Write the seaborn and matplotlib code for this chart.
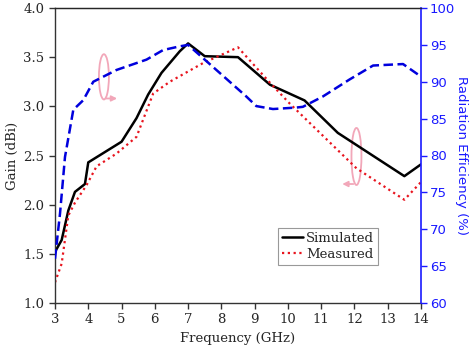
import matplotlib
matplotlib.use("Agg")
import matplotlib.pyplot as plt
import seaborn as sns
import pandas as pd
from matplotlib.patches import Ellipse

sim_freq = [3.0, 3.2, 3.4, 3.6, 3.9, 4.0, 5.0, 5.45, 5.8, 6.2, 6.75, 7.0, 7.5, 8.5, 9.46, 10.5, 11.5, 13.5, 14.0]
sim_gain = [1.52, 1.64, 1.94, 2.13, 2.21, 2.43, 2.64, 2.88, 3.12, 3.34, 3.56, 3.64, 3.51, 3.50, 3.22, 3.06, 2.73, 2.29, 2.41]

meas_freq = [3.0, 3.2, 3.4, 3.6, 3.95, 4.25, 4.85, 5.45, 5.95, 6.45, 7.45, 8.5, 9.46, 10.05, 12.06, 13.5, 14.0]
meas_gain = [1.21, 1.40, 1.89, 2.02, 2.20, 2.39, 2.52, 2.69, 3.13, 3.25, 3.44, 3.60, 3.24, 3.03, 2.37, 2.05, 2.23]

eff_freq = [3.0, 3.15, 3.3, 3.55, 3.85, 4.15, 4.85, 5.75, 6.25, 6.75, 7.0, 7.95, 8.75, 9.05, 9.55, 10.25, 10.45, 11.05, 11.85, 12.56, 13.46, 14.0]
eff_val = [66.0, 72.1, 79.8, 86.2, 87.5, 90.0, 91.6, 93.0, 94.3, 94.8, 95.0, 91.2, 88.0, 86.7, 86.3, 86.5, 86.6, 88.0, 90.3, 92.2, 92.4, 90.7]

x_ticks = list(range(3, 15))
gain_ticks = [1.0, 1.5, 2.0, 2.5, 3.0, 3.5, 4.0]
eff_ticks = [60, 65, 70, 75, 80, 85, 90, 95, 100]

sns.set_style("ticks")
plt.rcParams['font.family'] = ['DejaVu Serif']

blue = "#1a1aff"
fig = plt.figure(figsize=(4.74, 3.54), dpi=100)
ax = fig.add_axes([55/474, 1-303/354, 366/474, 295/354])
ax2 = ax.twinx()

df_sim = pd.DataFrame({"f": sim_freq, "g": sim_gain})
df_meas = pd.DataFrame({"f": meas_freq, "g": meas_gain})
df_eff = pd.DataFrame({"f": eff_freq, "e": eff_val})

sns.lineplot(data=df_sim, x="f", y="g", ax=ax, color="black", lw=1.8, label="Simulated", sort=False)
sns.lineplot(data=df_meas, x="f", y="g", ax=ax, color="#e8141e", lw=1.6, ls=(0, (1, 1.6)), label="Measured", sort=False)
sns.lineplot(data=df_eff, x="f", y="e", ax=ax2, color="#0000dd", lw=1.8, ls=(0, (3.8, 1.8)), sort=False)

ax.set_xlim(3, 14)
ax.set_ylim(1.0, 4.0)
ax2.set_ylim(60, 100)
ax.set_xticks(x_ticks)
ax.set_yticks(gain_ticks)
ax.set_yticklabels([f"{v:.1f}" for v in gain_ticks])
ax2.set_yticks(eff_ticks)

ax.set_xlabel("Frequency (GHz)", fontsize=9.5, family="DejaVu Serif")
ax.set_ylabel("Gain (dBi)", fontsize=9.5, family="DejaVu Serif", labelpad=3)
ax2.set_ylabel("Radiation Efficiency (%)", fontsize=9.5, color=blue, rotation=270, labelpad=9, family="DejaVu Sans")

ax.tick_params(axis="both", labelsize=9.5, direction="out", length=4, width=1, color="#333333")
ax2.tick_params(axis="y", labelsize=9.5, colors=blue, direction="out", length=4, width=1, pad=2.5)
for lab in ax2.get_yticklabels():
    lab.set_family("DejaVu Sans")

for s in ["left", "bottom", "top"]:
    ax.spines[s].set_color("#333333")
    ax.spines[s].set_linewidth(1.0)
ax2.spines["right"].set_color(blue)
ax2.spines["right"].set_linewidth(1.2)
ax2.spines["top"].set_visible(True)
ax2.spines["left"].set_visible(False)
ax2.spines["bottom"].set_visible(False)
ax.spines["right"].set_visible(False)

# annotation ellipses
pink = "#f2a7b9"
e1 = Ellipse((4.47, 3.30), 0.3, 0.46, fill=False, ec=pink, lw=1.3)
ax.add_patch(e1)
ax.annotate("", xy=(4.95, 3.08), xytext=(4.45, 3.08),
            arrowprops=dict(arrowstyle="-|>", color=pink, lw=1.3, mutation_scale=8))
e2 = Ellipse((12.06, 2.49), 0.3, 0.58, fill=False, ec=pink, lw=1.3)
ax.add_patch(e2)
ax.annotate("", xy=(11.55, 2.21), xytext=(12.05, 2.21),
            arrowprops=dict(arrowstyle="-|>", color=pink, lw=1.3, mutation_scale=8))

leg = ax.legend(loc="lower right", bbox_to_anchor=(0.882, 0.129), fontsize=9.5,
                frameon=True, fancybox=False, edgecolor="#999999", framealpha=1,
                handlelength=1.6, handletextpad=0.2, borderpad=0.3, labelspacing=0.25,
                borderaxespad=0)
leg.get_frame().set_linewidth(0.8)

fig.savefig("out.png", dpi=100)
